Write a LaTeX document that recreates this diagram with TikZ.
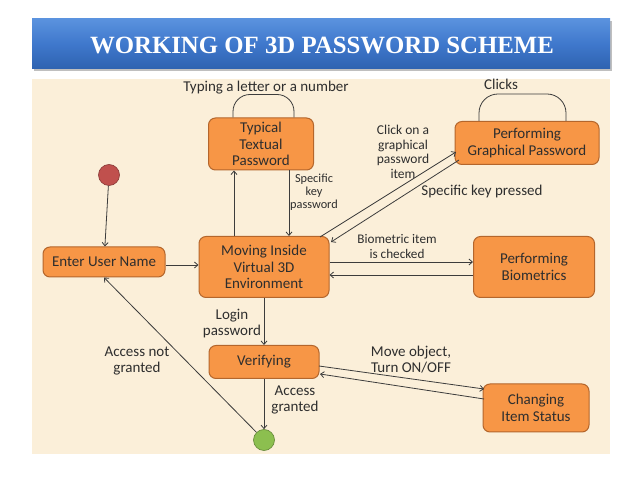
\documentclass[tikz,border=0pt]{standalone}
\usepackage{fontspec}
\setmainfont{Carlito}
\newfontfamily\titlefont{Liberation Serif}
\usetikzlibrary{arrows.meta,shadows}
\definecolor{bannerblue}{HTML}{3F78CC}
\definecolor{bannertop}{HTML}{5A92DE}
\definecolor{bannerbot}{HTML}{2E62B0}
\definecolor{beige}{HTML}{FBEFD9}
\definecolor{boxfill}{HTML}{F79646}
\definecolor{boxline}{HTML}{B4662C}
\definecolor{txt}{HTML}{2E2E2E}
\definecolor{ln}{HTML}{3C3C3C}
\definecolor{startred}{HTML}{C0504D}
\definecolor{stopgreen}{HTML}{8CBF4F}
\tikzset{
  statebox/.style={draw=boxline, line width=1pt, fill=boxfill, rounded corners=7pt,
    text=txt, font=\fontsize{15}{16.5}\selectfont, align=center, inner sep=0pt},
  lbl/.style={text=txt, font=\fontsize{15}{16}\selectfont, align=center, inner sep=0pt},
  smalllbl/.style={text=txt, font=\fontsize{12.3}{13.2}\selectfont, align=center, inner sep=0pt},
  conn/.style={draw=ln, line width=0.8pt, -{Straight Barb[length=3.5pt,width=6pt]}},
  plain/.style={draw=ln, line width=0.8pt},
}
\begin{document}
\begin{tikzpicture}[x=1pt,y=-1pt]
\useasboundingbox (0,0) rectangle (638,478);
\fill[white] (0,0) rectangle (638,478);
% banner
\fill[black!25] (34,21) rectangle (612,71);
\shade[top color=bannertop, bottom color=bannerbot, middle color=bannerblue] (32,19) rectangle (610,69);
\node[text=white, font=\titlefont\bfseries\fontsize{24.8}{26}\selectfont] (title) at (322,45) {WORKING OF 3D PASSWORD SCHEME};
% background
\fill[beige] (32,79) rectangle (610,454);

% states
\node[statebox, minimum width=105pt, minimum height=52pt] (text) at (261,144) {Typical\\Textual\\Password};
\node[statebox, minimum width=144pt, minimum height=43pt] (graph) at (527,143) {Performing\\Graphical Password};
\node[statebox, minimum width=122pt, minimum height=30pt] (user) at (104,262) {Enter User Name};
\node[statebox, minimum width=130pt, minimum height=61pt] (move) at (264,267) {Moving Inside\\Virtual 3D\\Environment};
\node[statebox, minimum width=121pt, minimum height=61pt] (bio) at (534,267) {Performing\\Biometrics};
\node[statebox, minimum width=110pt, minimum height=33pt] (ver) at (264,362) {Verifying};
\node[statebox, minimum width=106pt, minimum height=48pt] (chg) at (536,408) {Changing\\Item Status};
\node[circle, fill=startred, draw=startred!70!black, line width=0.6pt, minimum size=21pt, inner sep=0pt] (start) at (109,175) {};
\node[circle, fill=stopgreen, draw=stopgreen!70!black, line width=0.6pt, minimum size=21pt, inner sep=0pt] (stop) at (264,440) {};

% self loops
\draw[plain, rounded corners=17pt] ([xshift=-28pt]text.north) -- ([xshift=-28pt,yshift=23pt]text.north) -- ([xshift=33pt,yshift=23pt]text.north) -- ([xshift=33pt]text.north);
\draw[plain, rounded corners=19pt] ([xshift=-48pt]graph.north) -- ([xshift=-48pt,yshift=27pt]graph.north) -- ([xshift=39pt,yshift=27pt]graph.north) -- ([xshift=39pt]graph.north);
\node[lbl] (l1) at (266,88) {Typing a letter or a number};
\node[lbl] (l2) at (501,84) {Clicks};

% connectors
\draw[conn] (start) -- (user);
\draw[conn] (user.east |- 0,265) -- (move.west |- 0,265);
\draw[conn] (move.north -| 234,0) -- (text.south -| 234,0);
\draw[conn] (text.south -| 289,0) -- (move.north -| 289,0);
\node[smalllbl] (l3) at (314,192) {Specific\\key\\password};

\coordinate (m1) at (320,237);
\coordinate (g1) at (456,152);
\coordinate (g2) at (459,160);
\coordinate (m2) at (331,242);
\draw[conn] (m1) -- (g1);
\draw[conn] (g2) -- (m2);
\node[lbl, font=\fontsize{13.5}{14.5}\selectfont] (l4) at (403,152) {Click on a\\graphical\\password\\item};
\node[lbl] (l5) at (482,192) {Specific key pressed};

\draw[conn] (move.east |- 0,262) -- (bio.west |- 0,262);
\draw[conn] (bio.west |- 0,275) -- (move.east |- 0,275);
\node[smalllbl, font=\fontsize{13.2}{15}\selectfont] (l6) at (397,247) {Biometric item\\is checked};

\draw[conn] (move) -- (ver);
\node[lbl] (l7) at (232,324) {Login\\password};
\draw[conn] (ver) -- (stop);
\node[lbl] (l8) at (295,400) {Access\\granted};
\draw[conn] (stop) -- (user.south);
\node[lbl] (l9) at (137,361) {Access not\\granted};

\coordinate (v1) at (319,366);
\coordinate (c1) at (484,389);
\coordinate (c2) at (484,399);
\coordinate (v2) at (320,374);
\draw[conn] (v1) -- (c1);
\draw[conn] (c2) -- (v2);
\node[lbl] (l10) at (411,360) {Move object,\\Turn ON/OFF};
\end{tikzpicture}
\end{document}
